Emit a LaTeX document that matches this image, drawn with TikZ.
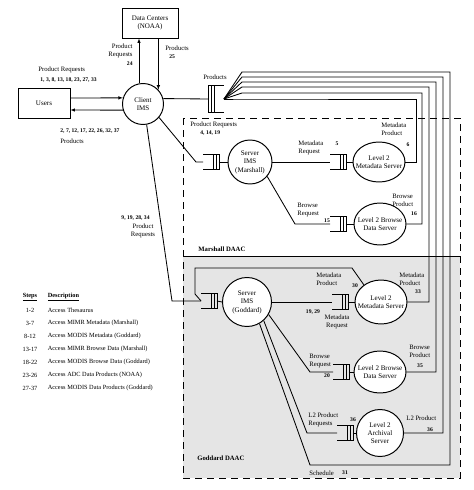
\documentclass[tikz,border=0pt]{standalone}
\usepackage{fontspec}
\setmainfont{Liberation Serif}
\usetikzlibrary{shapes.geometric, arrows}
\tikzset{
    >=latex, % filled arrow heads
    every node/.style={font=\fontsize{9.5}{11}\selectfont},
    every label/.style={align=center, font=\fontsize{10}{11.5}\selectfont}, % text inside the servers
    ext/.style={rectangle, draw, line width=1.3pt, inner sep=0pt, align=center, font=\fontsize{10}{12}\selectfont}, % outside entities
    proc/.style={circle, draw, line width=1.4pt, fill=white, inner sep=0pt, align=center, font=\fontsize{10}{12}\selectfont},
    srv/.style={ellipse, draw, line width=1.4pt, fill=white, inner sep=0pt, minimum width=26mm, minimum height=21mm},
    queue/.style={inner sep=0pt, minimum width=7.5mm, minimum height=7mm}, % bars are drawn further down
    lbl/.style={inner sep=0pt, align=left},
    num/.style={inner sep=0pt, font=\bfseries\fontsize{8}{9}\selectfont},
    daac/.style={inner sep=0pt, font=\bfseries\fontsize{9.5}{10}\selectfont},
    legend/.style={font=\fontsize{9}{10}\selectfont},
}
\begin{document}
\begin{tikzpicture}[x=0.5mm, y=-0.5mm, line width=1.2pt]
\useasboundingbox (0,0) rectangle (474,490);
% the two DAACs
\fill[gray!20] (183,256) rectangle (460,478);
\draw (183,256) -- (460,256);
\draw[dash pattern=on 3.5mm off 2.5mm] (183,118) rectangle (460,478);
\node[daac, anchor=west] (mdaac) at (198,249) {Marshall DAAC};
\node[daac, anchor=west] (gdaac) at (197,458) {Goddard DAAC};

% entities and servers
\node[ext, minimum width=26mm, minimum height=15mm] (users) at (44,103) {Users};
\node[ext, minimum width=28mm, minimum height=15mm] (noaa) at (150,23) {Data Centers\\(NOAA)};
\node[proc, minimum size=20.5mm] (client) at (143,104) {Client\\IMS};
\node[proc, minimum size=22mm] (msrv) at (250,162) {Server\\IMS\\(Marshall)};
\node[proc, minimum size=24.5mm] (gsrv) at (247,302) {Server\\IMS\\(Goddard)};
\node[srv, minimum height=20mm, label=center:{Level 2\\Metadata Server}] (mmeta) at (379,162) {};
\node[srv, label=center:{Level 2 Browse\\Data Server}] (mbrw) at (380,224) {};
\node[srv, minimum height=22mm, label=center:{Level 2\\Metadata Server}] (gmeta) at (381,302) {};
\node[srv, label=center:{Level 2 Browse\\Data Server}] (gbrw) at (380,372) {};
\node[srv, minimum width=23.5mm, minimum height=23.5mm, label=center:{Level 2\\Archival\\Server}] (garc) at (380,433) {};

% queues
\node[queue, minimum height=13mm] (prodq) at (216,99) {};
\node[queue] (mreqq) at (211,162) {};
\node[queue] (mmetq) at (338,162) {};
\node[queue] (mbrwq) at (338,224) {};
\node[queue] (greqq) at (209,301) {};
\node[queue] (gmetq) at (340,302) {};
\node[queue] (gbrwq) at (341,372) {};
\node[queue] (garcq) at (345,433) {};
\foreach \q in {mreqq, mmetq, mbrwq, greqq, gmetq, gbrwq, garcq}
    \draw (\q.north west) -- (\q.north east) -- (\q.south east) -- (\q.south west)
          ([xshift=-1.5mm]\q.north east) -- ([xshift=-1.5mm]\q.south east)
          ([xshift=-3mm]\q.north east) -- ([xshift=-3mm]\q.south east);
\draw (prodq.north east) -- (prodq.north west) -- (prodq.south west) -- (prodq.south east)
      ([xshift=1.5mm]prodq.north west) -- ([xshift=1.5mm]prodq.south west)
      ([xshift=3mm]prodq.north west) -- ([xshift=3mm]prodq.south west);

% users and data centers
\draw[->] ([yshift=2.5mm]users.east) -- (client.163);
\draw[->] (client.197) -- ([yshift=-3.5mm]users.east);
\draw[->] (client.101) -- (client.101 |- noaa.south);
\draw[->] (noaa.south -| client.43) -- (client.43);

% requests
\draw (client.15) -- (prodq.west);
\draw (client.-40) -- (196,162) -- (mreqq.west);
\draw (mreqq.east) -- (msrv.west);
\draw (msrv.east) -- (mmetq.west);
\draw (mmetq.east) -- (mmeta.west);
\draw (msrv.-40) -- (295,224) -- (mbrwq.west);
\draw (mbrwq.east) -- (mbrw.west);
\draw (client.-80) -- (172,301) -- (greqq.west);
\draw (greqq.east) -- (gsrv.west);
\draw (gsrv.east) -- (gmetq.west);
\draw (gmetq.east) -- (gmeta.west);
\draw (gmeta.135) -- (352,268) -- (195,268) -- (195,294) -- (greqq.west);
\draw (gsrv.-30) -- (310,372) -- (gbrwq.west);
\draw (gbrwq.east) -- (gbrw.west);
\draw (gsrv.-48) -- (307,433) -- (garcq.west);
\draw (garcq.east) -- (garc.west);

% products back to the client
\draw (prodq.east) -- (242,99) -- (416,99) |- (mmeta.east);
\draw (prodq.east) -- (242,93) -- (422,93) |- (mbrw.east);
\draw (prodq.east) -- (242,87) -- (429,87) |- (gmeta.east);
\draw (prodq.east) -- (242,82) -- (436,82) |- (gbrw.east);
\draw (prodq.east) -- (242,77) -- (443,77) |- (garc.east);
\draw (prodq.east) -- (242,72) -- (450,72) -- (450,465) -- (310,465) -- (gsrv.-60);

% labels
\node[lbl, anchor=west] (l1) at (38,70) {Product Requests};
\node[num, anchor=west] (n1) at (40,80) {1, 3, 8, 13, 18, 23, 27, 33};
\node[num, anchor=west] (n2) at (60,131) {2, 7, 12, 17, 22, 26, 32, 37};
\node[lbl, anchor=west] (l2) at (60,141) {Products};
\node[lbl, anchor=east, align=right] (l3) at (133,51) {Product\\Requests};
\node[num, anchor=east] (n3) at (133,64) {24};
\node[lbl, anchor=west] (l4) at (165,48) {Products};
\node[num, anchor=west] (n4) at (169,57) {25};
\node[lbl] (l5) at (215,77) {Products};
\node[lbl, anchor=west] (l6) at (190,125) {Product Requests};
\node[num, anchor=west] (n6) at (200,133) {4, 14, 19};
\node[lbl, anchor=west] (l7) at (298,148) {Metadata\\Request};
\node[num] (n7) at (337,144) {5};
\node[lbl, anchor=west] (l8) at (381,129) {Metadata\\Product};
\node[num] (n8) at (408,145) {6};
\node[lbl, anchor=west] (l9) at (297,210) {Browse\\Request};
\node[num] (n9) at (327,221) {15};
\node[lbl, anchor=west] (l10) at (392,200) {Browse\\Product};
\node[num] (n10) at (414,214) {16};
\node[num, anchor=east] (n11) at (150,218) {9, 19, 28, 34};
\node[lbl, align=center] (l11) at (143,231) {Product\\Requests};
\node[lbl, anchor=west] (l12) at (316,279) {Metadata\\Product};
\node[num] (n12) at (355,286) {30};
\node[num] (n13) at (313,312) {19, 29};
\node[lbl, align=center] (l13) at (337,322) {Metadata\\Request};
\node[lbl, anchor=west] (l14) at (399,279) {Metadata\\Product};
\node[num] (n14) at (418,292) {33};
\node[lbl, anchor=west] (l15) at (309,361) {Browse\\Request};
\node[num] (n15) at (327,376) {20};
\node[lbl, anchor=west] (l16) at (409,351) {Browse\\Product};
\node[num] (n16) at (420,366) {35};
\node[lbl, anchor=west] (l17) at (308,420) {L2 Product\\Requests};
\node[num] (n17) at (353,420) {36};
\node[lbl, anchor=west] (l18) at (406,418) {L2 Product};
\node[num] (n18) at (430,430) {36};
\node[lbl, anchor=west] (l19) at (309,473) {Schedule};
\node[num] (n19) at (345,473) {31};

% legend
\node[legend, font=\bfseries\fontsize{9}{10}\selectfont] (sh) at (30,297) {\underline{Steps}};
\node[legend, font=\bfseries\fontsize{9}{10}\selectfont, anchor=west] (dh) at (45,297) {\underline{Description}};
\foreach \s/\d [count=\i] in {1-2/Access Thesaurus, 3-7/Access MIMR Metadata (Marshall),
    8-12/Access MODIS Metadata (Goddard), 13-17/Access MIMR Browse Data (Marshall),
    18-22/Access MODIS Browse Data (Goddard), 23-26/Access ADC Data Products (NOAA),
    27-37/Access MODIS Data Products (Goddard)} {
    \node[legend] (s\i) at (30,{297+13*\i}) {\s};
    \node[legend, anchor=west] (d\i) at (45,{297+13*\i}) {\d};
}
\end{tikzpicture}
\end{document}
